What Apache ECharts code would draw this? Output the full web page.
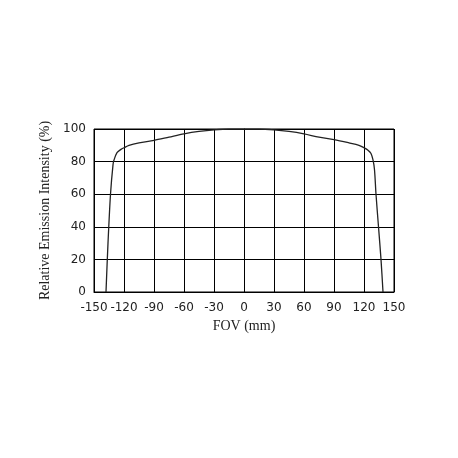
<!DOCTYPE html><html><head><meta charset="utf-8"><script src="https://cdn.jsdelivr.net/npm/echarts@6/dist/echarts.min.js"></script>
<style>body{margin:0;background:#fff}#c{width:458px;height:458px}</style></head><body><div id="c"></div><script>
const fov=[-138,-136,-133.5,-131,-130,-127,-123,-120,-115,-105,-90,-75,-60,-45,-30,-15,0,15,30,45,60,75,90,105,115,120,124,127,129,130.5,132,134.5,137,139];
const intensity=[0,30,60,78,81,85.5,87.5,88.5,90,91.5,93,95,97,98.5,99.5,100,100,100,99.5,98.5,97,95,93.5,91.5,90,88.5,87,85,81,75,60,40,20,0];
const xTicks=[-150,-120,-90,-60,-30,0,30,60,90,120,150];
const yTicks=[0,20,40,60,80,100];
const ch=echarts.init(document.getElementById('c'));
ch.setOption({animation:false,
grid:{left:94,right:64,top:129,bottom:166,show:true,borderColor:'#000',borderWidth:1},
xAxis:{type:'value',min:-150,max:150,interval:30,name:'FOV (mm)',nameLocation:'middle',nameGap:27,
nameTextStyle:{fontFamily:'Liberation Serif',fontSize:14,color:'#222'},
axisLine:{lineStyle:{color:'#000'}},axisTick:{show:false},
axisLabel:{fontFamily:'DejaVu Sans',fontSize:12,color:'#222',margin:10},
splitLine:{lineStyle:{color:'#000',width:1}}},
yAxis:{type:'value',min:0,max:100,interval:20,name:'Relative Emission Intensity (%)',nameLocation:'middle',nameGap:36,
nameTextStyle:{fontFamily:'Liberation Serif',fontSize:14,color:'#222'},
axisLine:{show:true,lineStyle:{color:'#000'}},axisTick:{show:false},
axisLabel:{fontFamily:'DejaVu Sans',fontSize:12,color:'#222',margin:8},
splitLine:{lineStyle:{color:'#000',width:1}}},
series:[{type:'line',data:fov.map((x,i)=>[x,intensity[i]]),smooth:0.3,showSymbol:false,lineStyle:{color:'#222',width:1.3}}]});
</script></body></html>
